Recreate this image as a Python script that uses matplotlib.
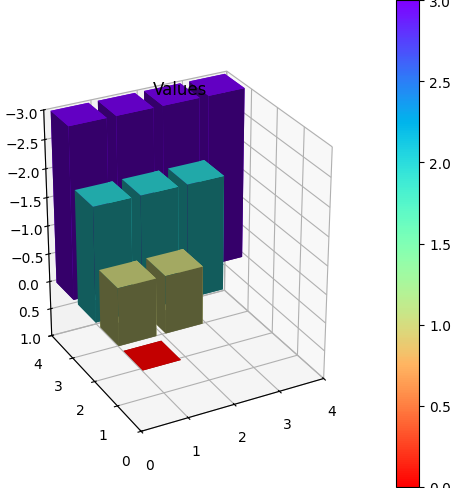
import numpy as np
import matplotlib
matplotlib.use("Agg")
import matplotlib.pyplot as plt
from matplotlib import cm, colors

xs = [0, 0, 1, 0, 1, 2, 0, 1, 2, 3]
ys = [0, 1, 1, 2, 2, 2, 3, 3, 3, 3]
values = [0, 1, 1, 2, 2, 2, 3, 3, 3, 3]

fig = plt.figure(figsize=(4.74, 4.89), dpi=100)
ax = fig.add_axes([-0.02, 0.0, 0.80, 0.97], projection='3d')
norm = colors.Normalize(0, 3)
cmap = cm.rainbow_r
cols = [cmap(norm(v)) for v in values]
ax.bar3d(np.array(xs) + 0.1, np.array(ys) + 0.1, np.zeros(len(xs)), 0.8, 0.8,
         -np.array(values, float), color=cols, shade=True)
ax.set_xlim(0, 4); ax.set_ylim(0, 4); ax.set_zlim(1, -3)
ax.set_xticks([0, 1, 2, 3, 4]); ax.set_yticks([0, 1, 2, 3, 4])
ax.set_box_aspect((1, 1, 1.25))
ax.zaxis.set_ticks_position('upper')
ax.zaxis.set_label_position('upper')
ax.set_title("Values", y=0.97)
ax.view_init(elev=28, azim=-118)
cax = fig.add_axes([0.835, 0.003, 0.05, 0.994])
fig.colorbar(cm.ScalarMappable(norm=norm, cmap=cmap), cax=cax)
fig.savefig("out.png", dpi=100)
